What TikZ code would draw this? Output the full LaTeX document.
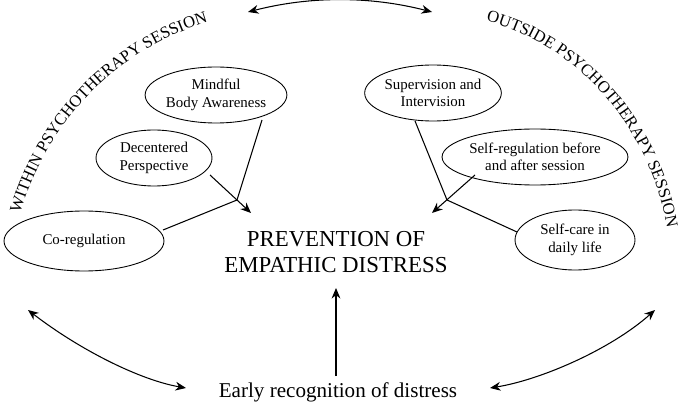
\documentclass[tikz,border=0pt]{standalone}
\usepackage{fontspec}
\setmainfont{Liberation Serif}
\usetikzlibrary{decorations.text,arrows.meta,shapes.geometric}
\begin{document}
\begin{tikzpicture}[x=0.02cm,y=-0.02cm,
  oval/.style={draw,ellipse,line width=0.5pt,font=\fontsize{8.5}{10}\selectfont,align=center,inner sep=0pt},
  conn/.style={line width=0.6pt},
  arr/.style={line width=0.6pt,-{Stealth[length=6pt,width=5pt]}},
  darr/.style={line width=0.6pt,{Stealth[length=6pt,width=5pt]}-{Stealth[length=6pt,width=5pt]}}]
\useasboundingbox (0,0) rectangle (685,418);
\node[oval,minimum width=2.28cm,minimum height=1.12cm] (mba) at (216,95) {Mindful\\Body Awareness};
\node[oval,minimum width=2.32cm,minimum height=1.12cm] (dp) at (154,158) {Decentered\\Perspective};
\node[oval,minimum width=3.2cm,minimum height=1.2cm] (cr) at (84,241) {Co-regulation};
\node[oval,minimum width=2.32cm,minimum height=1.12cm] (sv) at (433,93) {Supervision and\\Intervision};
\node[oval,minimum width=2.88cm,minimum height=1.12cm] (sr) at (535,157) {Self-regulation before\\and after session};
\node[oval,minimum width=2.4cm,minimum height=1.2cm] (sc) at (575,240) {Self-care in\\daily life};
\node[font=\fontsize{13}{15}\selectfont,align=center] (prev) at (336,252) {PREVENTION OF\\EMPATHIC DISTRESS};
\node[font=\fontsize{12}{14}\selectfont] (early) at (338,392) {Early recognition of distress};
\coordinate (jl) at (237,200);
\coordinate (jr) at (447,200);
\coordinate (tl) at (251,213);
\coordinate (tr) at (432,213);
\draw[conn] (262,120) -- (jl);
\draw[conn] (163,230) -- (jl);
\draw[arr] (210,175) -- (tl);
\draw[conn] (415,121) -- (jr);
\draw[conn] (517,232) -- (jr);
\draw[arr] (475,175) -- (tr);
\draw[arr] (336,376) -- (336,288);
\draw[darr] (248,12) .. controls (310,-4) and (370,-4) .. (432,12);
\draw[darr] (28,310) .. controls (80,350) and (140,380) .. (186,388);
\draw[darr] (490,388) .. controls (540,380) and (610,350) .. (655,310);
\path[decorate,decoration={text along path,text align=center,
  text={|\fontsize{9.5}{11}\selectfont|WITHIN PSYCHOTHERAPY SESSION}}]
  (16,230) .. controls (40,125) and (120,42) .. (224,18);
\path[decorate,decoration={text along path,text align=center,
  text={|\fontsize{9.5}{11}\selectfont|OUTSIDE PSYCHOTHERAPY SESSION}}]
  (482,20) .. controls (575,42) and (650,125) .. (668,232);
\end{tikzpicture}
\end{document}
